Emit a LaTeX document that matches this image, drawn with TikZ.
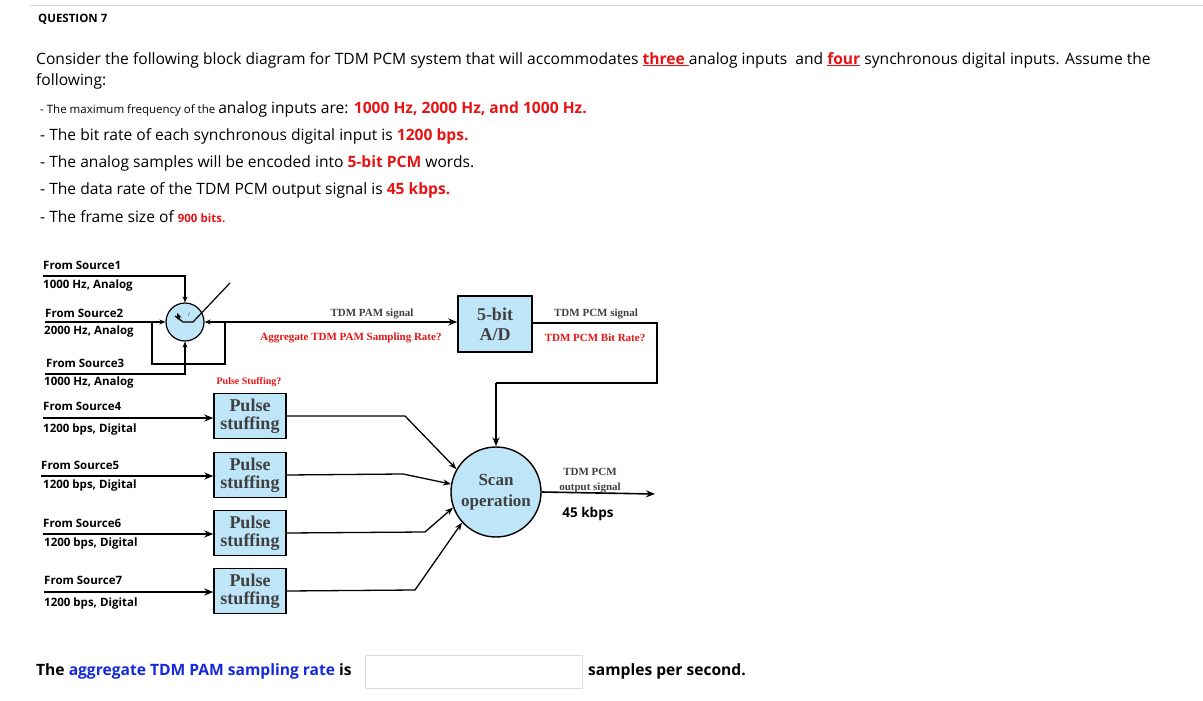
\documentclass[tikz,border=0pt]{standalone}
\usepackage{fontspec}
\setmainfont{Open Sans}
\newfontfamily\tms{Liberation Serif}
\usetikzlibrary{arrows.meta}
\definecolor{qred}{RGB}{230,20,20}
\definecolor{qblue}{RGB}{20,40,220}
\definecolor{boxfill}{RGB}{190,230,248}
\begin{document}
\begin{tikzpicture}[x=1pt,y=-1pt,
  txt/.style={anchor=west,inner sep=0pt,font=\fontsize{15.6}{18}\selectfont},
  src/.style={anchor=west,inner sep=0pt,font=\fontsize{11.5}{13}\selectfont\bfseries},
  tlab/.style={inner sep=0pt,font=\tms\fontsize{11}{12}\selectfont\bfseries,text=black!75},
  rlab/.style={inner sep=0pt,font=\tms\fontsize{11}{12}\selectfont\bfseries,text=qred},
  blk/.style={draw,line width=1.4pt,fill=boxfill,align=center,inner sep=0pt,font=\tms\fontsize{18}{18}\selectfont\bfseries,text=black!75},
  wire/.style={line width=1.6pt},
  arr/.style={line width=1.6pt,-{Stealth[length=9pt,width=7pt]}},
  thin/.style={line width=1.2pt,-{Stealth[length=6pt,width=5pt]}}]
\useasboundingbox (0,0) rectangle (1203,701);
\draw[black!15] (30,5) -- (1203,5);
\node[anchor=west,inner sep=0pt,font=\fontsize{11.5}{13}\selectfont\bfseries] (q) at (38,19) {QUESTION 7};
\node[txt] (p1) at (36,60) {Consider the following block diagram for TDM PCM system that will accommodates \textcolor{qred}{\bfseries\underline{three }}analog inputs\ \ and \textcolor{qred}{\bfseries\underline{four}} synchronous digital inputs. Assume the};
\node[txt] (p2) at (36,81) {following:};
\node[txt] (b1) at (40,109) {{\fontsize{11.5}{13}\selectfont - The maximum frequency of the }analog inputs are: \textcolor{qred}{\bfseries 1000 Hz, 2000 Hz, and 1000 Hz.}};
\node[txt] (b2) at (40,136) {- The bit rate of each synchronous digital input is \textcolor{qred}{\bfseries 1200 bps.}};
\node[txt] (b3) at (40,163) {- The analog samples will be encoded into \textcolor{qred}{\bfseries 5-bit PCM} words.};
\node[txt] (b4) at (40,190) {- The data rate of the TDM PCM output signal is \textcolor{qred}{\bfseries 45 kbps.}};
\node[txt] (b5) at (40,217) {- The frame size of \textcolor{qred}{\bfseries\fontsize{11.5}{13}\selectfont 900 bits.}};
% sources
\node[src] (s1) at (43,265) {From Source1};
\node[src] (s1b) at (43,286) {1000 Hz, Analog};
\node[src] (s2) at (45,313) {From Source2};
\node[src] (s2b) at (44,332) {2000 Hz, Analog};
\node[src] (s3) at (46,363) {From Source3};
\node[src] (s3b) at (44,383) {1000 Hz, Analog};
\node[src] (s4) at (43,406) {From Source4};
\node[src] (s4b) at (43,430) {1200 bps, Digital};
\node[src] (s5) at (41,465) {From Source5};
\node[src] (s5b) at (43,486) {1200 bps, Digital};
\node[src] (s6) at (43,523) {From Source6};
\node[src] (s6b) at (44,544) {1200 bps, Digital};
\node[src] (s7) at (44,580) {From Source7};
\node[src] (s7b) at (44,604) {1200 bps, Digital};
% commutator
\node[draw,circle,fill=boxfill,line width=1.2pt,minimum size=38pt,inner sep=0pt] (com) at (185,322) {};
\coordinate (c1) at (43,276);
\coordinate (c2) at (45,322);
\coordinate (c3) at (45,374);
\draw[line width=1.2pt] (c1) -| (185,283);
\draw[thin] (185,283) -- (com.north);
\draw[line width=1.2pt] (c3) -| (185,362);
\draw[thin] (185,362) -- (com.south);
\draw[thin] (c2) -- (com.west);
\draw[line width=1.2pt] (152,322) |- (225,364) -- (225,322);
\draw[thin] (225,322) -- (com.east);
\draw[line width=1.2pt] (175,316) -- (183,322) -- (193,322) -- (230,283);
\draw[thin] (180,320) -- (177,313);
\node[font=\tiny] (sl) at (189,315) {/};
% A/D
\node[blk,minimum width=74pt,minimum height=56pt] (ad) at (495,324) {5-bit\\[2pt]A/D};
\draw[arr] (225,322) -- (ad.west|-225,322);
\node[tlab] (pamt) at (372,314) {TDM PAM signal};
\node[rlab] (pamr) at (351,338) {Aggregate TDM PAM Sampling Rate?};
\node[tlab] (pcmt) at (596,314) {TDM PCM signal};
\node[rlab] (pcmr) at (595,338) {TDM PCM Bit Rate?};
% scan
\node[draw,circle,fill=boxfill,line width=1.4pt,minimum size=90pt,inner sep=0pt,align=center,font=\tms\fontsize{17}{21}\selectfont\bfseries,text=black!75] (scan) at (496,492) {Scan\\operation};
\draw[wire] (ad.east|-0,323) -- (657,323) -- (657,383) -- (496,383);
\draw[arr] (496,383) -- (scan.north);
\coordinate (out) at (655,494);
\draw[arr] (scan.east) -- (out);
\node[tlab,align=center] (o1) at (590,472) {TDM PCM};
\node[tlab] (o2) at (590,488) {output signal};
\node[inner sep=0pt,font=\fontsize{13.5}{15}\selectfont\bfseries] (o3) at (588,514) {45 kbps};
% pulse stuffing
\node[rlab,font=\tms\fontsize{10}{11}\selectfont\bfseries] (psq) at (249,382) {Pulse Stuffing?};
\foreach \n/\y in {1/416,2/475,3/533,4/591}{
  \node[blk,minimum width=72pt,minimum height=45pt] (p\n) at (250,\y) {Pulse\\stuffing};
}
\draw[arr] (43,418) -- (p1.west|-0,418);
\draw[arr] (41,476) -- (p2.west|-0,476);
\draw[arr] (43,534) -- (p3.west|-0,534);
\draw[arr] (44,592) -- (p4.west|-0,592);
\draw[line width=1.3pt,-{Stealth[length=8pt,width=6pt]}] (p1.east) -- (405,416) -- (scan.150);
\draw[line width=1.3pt,-{Stealth[length=8pt,width=6pt]}] (p2.east) -- (403,474) -- (scan.170);
\draw[line width=1.3pt,-{Stealth[length=8pt,width=6pt]}] (p3.east) -- (425,532) -- (scan.200);
\draw[line width=1.3pt,-{Stealth[length=8pt,width=6pt]}] (p4.east) -- (415,590) -- (scan.222);
% bottom
\node[anchor=west,inner sep=0pt,font=\fontsize{15.6}{18}\selectfont\bfseries] (bt) at (36,671) {The \textcolor{qblue}{aggregate TDM PAM sampling rate} is};
\node[draw=black!15,minimum width=217pt,minimum height=33pt,inner sep=0pt] (ans) at (473.5,671.5) {};
\node[anchor=west,inner sep=0pt,font=\fontsize{15.6}{18}\selectfont\bfseries] (sp) at (588,671) {samples per second.};
\end{tikzpicture}
\end{document}
